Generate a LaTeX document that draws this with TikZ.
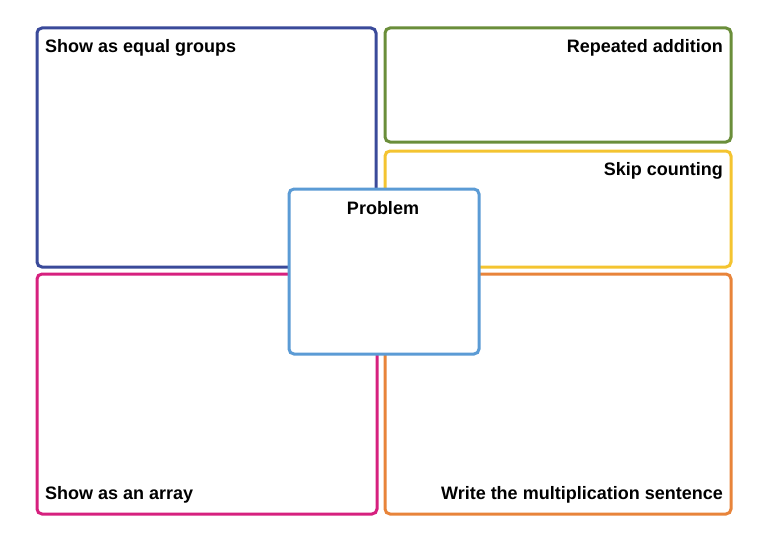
\documentclass[tikz,border=0pt]{standalone}
\usepackage{fontspec}
\setmainfont{Liberation Sans}
\definecolor{cblue}{HTML}{3A4A9A}
\definecolor{cgreen}{HTML}{6A8E3A}
\definecolor{cyellow}{HTML}{F4C430}
\definecolor{cmag}{HTML}{D6207E}
\definecolor{corange}{HTML}{E8843A}
\definecolor{ccenter}{HTML}{5B9BD5}
\begin{document}
\begin{tikzpicture}[x=1pt,y=-1pt,
  panel/.style={line width=3pt,rounded corners=5pt,fill=white},
  lbl/.style={font=\bfseries\fontsize{18}{20}\selectfont,inner sep=0pt}]
\useasboundingbox (0,0) rectangle (768,543);
\draw[panel,draw=cblue] (37,28) rectangle (376,267);
\draw[panel,draw=cgreen] (385,28) rectangle (731,142);
\draw[panel,draw=cyellow] (385,151) rectangle (731,267);
\draw[panel,draw=cmag] (37,274) rectangle (377,514);
\draw[panel,draw=corange] (385,274) rectangle (731,514);
\draw[panel,draw=ccenter] (289,189) rectangle (479,354);
\node[lbl,anchor=west] (a) at (45,48) {Show as equal groups};
\node[lbl,anchor=east] (b) at (723,48) {Repeated addition};
\node[lbl,anchor=east] (c) at (723,171) {Skip counting};
\node[lbl] (d) at (383,208) {Problem};
\node[lbl,anchor=west] (e) at (45,495) {Show as an array};
\node[lbl,anchor=east] (f) at (723,495) {Write the multiplication sentence};
\end{tikzpicture}
\end{document}
